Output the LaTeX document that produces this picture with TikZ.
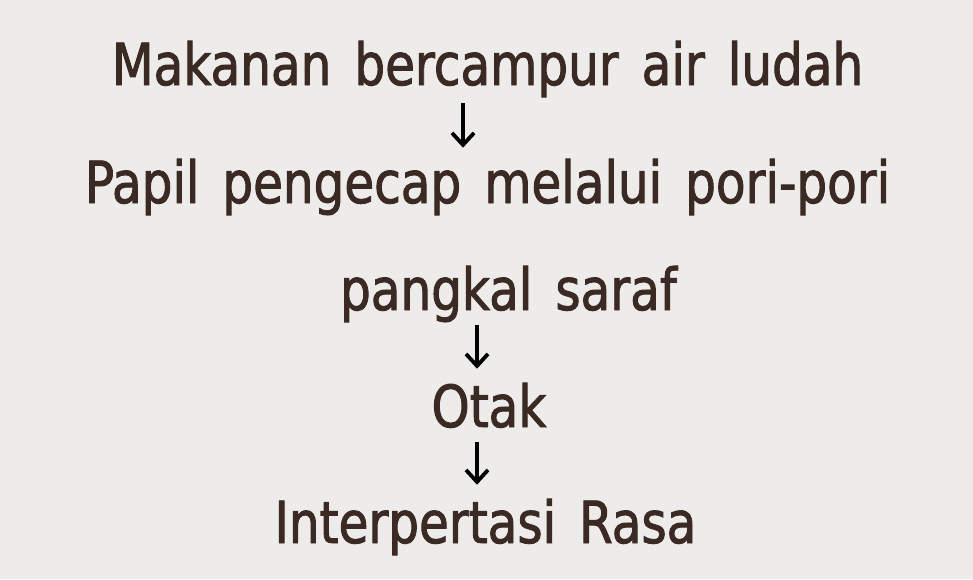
\documentclass[tikz,border=0pt]{standalone}
\usepackage{fontspec}
\setmainfont[FakeStretch=0.835, WordSpace=1.5, FakeBold=1.6]{DejaVu Sans}
\usetikzlibrary{positioning, arrows.meta}
\definecolor{latar}{HTML}{EEECEA}
\definecolor{teks}{HTML}{3A2A23}

\begin{document}
\begin{tikzpicture}[x=1pt,y=-1pt,
    langkah/.style={anchor=base, inner sep=0pt, text=teks, font=\fontsize{58}{60}\selectfont},
    panah/.style={draw=black, line width=3.8pt, -{Straight Barb[length=12pt,width=22pt,line width=3.8pt]}}]
    \fill[latar] (0,0) rectangle (973,579);
    \useasboundingbox (0,0) rectangle (973,579);

    \node[langkah] (makan) at (487.5,85) {Makanan bercampur air ludah};
    \node[langkah] (papil) at (487.5,203) {Papil pengecap melalui pori-pori};
    \node[langkah] (saraf) at (508.5,310) {pangkal saraf};
    \node[langkah] (otak) at (489,427) {Otak};
    \node[langkah] (rasa) at (485.5,543) {Interpertasi Rasa};

    % panah di antara langkah
    \draw[panah] ([xshift=-24.5pt,yshift=-6pt]makan.south) -- ([xshift=-24.5pt,yshift=11pt]makan.south |- papil.north);
    \draw[panah] ([xshift=-31.5pt,yshift=-3pt]saraf.south) -- ([xshift=-31.5pt,yshift=14pt]saraf.south |- otak.north);
    \draw[panah] ([xshift=-12pt,yshift=-14pt]otak.south) -- ([xshift=-12pt,yshift=14pt]otak.south |- rasa.north);
\end{tikzpicture}
\end{document}
